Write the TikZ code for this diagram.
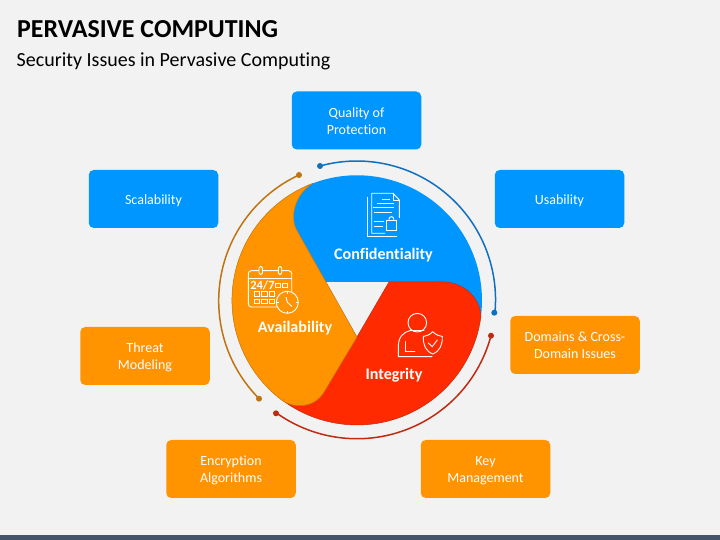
\documentclass[tikz,border=0pt]{standalone}
\usepackage{xcolor}
\usepackage{fontspec}
\setmainfont[Ligatures = NoCommon]{Carlito}
\definecolor{pageback}{HTML}{F2F2F2}
\definecolor{footbar}{HTML}{44546A}
\definecolor{boxblue}{HTML}{0096FF}
\definecolor{boxorange}{HTML}{FF9300}
\definecolor{segred}{HTML}{FF2A00}
\definecolor{ringblue}{HTML}{0F6FC0}
\definecolor{ringorange}{HTML}{BF7410}
\definecolor{ringred}{HTML}{BF2A10}
\tikzset{
  infobox/.style = {rounded corners = 5pt, minimum width = 129.5pt, minimum height = 58pt, inner sep = 0pt},
  bluebox/.style = {infobox, fill = boxblue},
  orangebox/.style = {infobox, fill = boxorange},
  boxtext/.style = {inner sep = 0pt, yshift = -2pt, align = center, text = white, font = \fontsize{14}{17}\selectfont},
  seglabel/.style = {text = white, font = \fontsize{16.1}{18}\bfseries\selectfont},
  icon/.style = {draw = white, line width = 0.9pt},
  ring/.style = {line width = 1.5pt}
}
\begin{document}
\begin{tikzpicture}[x = 1pt, y = 1pt]
    \useasboundingbox (0, 0) rectangle (720, 540);
    \fill[pageback] (0, 0) rectangle (720, 540);
    \fill[footbar] (0, 0) rectangle (720, 5);
    \node[right, inner sep = 0pt, font = \fontsize{25.9}{30}\bfseries\selectfont] (title) at (17, 511) {PERVASIVE COMPUTING};
    \node[right, inner sep = 0pt, font = \fontsize{20}{24}\selectfont] (subtitle) at (16.5, 478.5) {Security Issues in Pervasive Computing};

    % segments
    \fill[boxblue] (313, 356.7) arc[start angle = 110.6, end angle = -8.2, radius = 125pt]
      -- (400, 240) -- (400, 258) -- (325, 258) -- (296.7, 310)
      .. controls (289, 324) and (296, 347) .. (313, 356.7);
    \filldraw[fill = segred, draw = ringred, line width = 0.5pt] (389, 258) -- (443, 258)
      .. controls (462, 258) and (480, 244) .. (480.9, 223.3)
      arc[start angle = -7.7, end angle = -127, radius = 125pt] -- (357, 203) -- cycle;
    \filldraw[fill = boxorange, draw = ringorange, line width = 0.5pt] (313, 356.7)
      arc[start angle = 110.6, end angle = 233, radius = 125pt]
      .. controls (292, 132) and (313, 131) .. (323.3, 146.7)
      -- (357, 203) -- (296.7, 310)
      .. controls (289, 324) and (296, 347) .. (313, 356.7);

    % rings
    \draw[ring, ringblue] (320, 374) arc[start angle = 105.4, end angle = -5.3, radius = 138.7pt];
    \fill[ringblue] (320, 374) circle (3pt) (494.3, 227.3) circle (3pt);
    \draw[ring, ringorange] (299, 365) arc[start angle = 114.9, end angle = 225.2, radius = 138.7pt];
    \fill[ringorange] (299, 365) circle (3pt) (259, 141.3) circle (3pt);
    \draw[ring, ringred] (491, 204.3) arc[start angle = -14.9, end angle = -125.6, radius = 138.7pt];
    \fill[ringred] (491, 204.3) circle (3pt) (276, 126.7) circle (3pt);

    % document icon
    \draw[icon] (367.3, 343.3) -- (367.3, 303.3) -- (396.7, 303.3);
    \draw[icon] (385, 306.7) -- (371.7, 306.7) -- (371.7, 346.7) -- (393, 346.7) -- (399.3, 340) -- (399.3, 322);
    \draw[icon] (393, 346.7) -- (393, 340) -- (399.3, 340);
    \draw[icon] (381.7, 340.7) -- (390, 340.7);
    \draw[icon] (376.7, 336.7) -- (394.3, 336.7);
    \draw[icon] (373.3, 332.3) -- (394.3, 332.3);
    \draw[icon] (374, 328) -- (391.7, 328);
    \draw[icon] (374, 319) -- (384, 319);
    \draw[icon] (374, 314) -- (383.3, 314);
    \draw[icon] (386.7, 310) rectangle (396, 319.3);
    \draw[icon] (389, 319.3) -- (389, 321) arc[start angle = 180, end angle = 0, radius = 2.35pt] -- (393.7, 319.3);

    % calendar icon
    \draw[icon, rounded corners = 3pt] (248.3, 233) rectangle (291.7, 269.3);
    \draw[icon] (248.3, 262) -- (291.7, 262);
    \foreach \ringx in {260.7, 280} {
      \filldraw[icon, fill = boxorange, rounded corners = 1.5pt] (\ringx - 1.7, 265.5) rectangle (\ringx + 1.7, 273.5);
    }
    \node[text = white, inner sep = 0pt, font = \fontsize{12.5}{13}\bfseries\selectfont] (weektext) at (262.5, 254.5) {24/7};
    \foreach \boxx in {278, 285} {
      \draw[icon, line width = 0.7pt] (\boxx - 2.5, 252.5) rectangle (\boxx + 2.5, 257);
    }
    \foreach \boxx in {256.7, 264.3, 271.7} {
      \foreach \boxy in {246, 238.7} {
        \draw[icon, line width = 0.7pt] (\boxx - 2.7, \boxy - 2.3) rectangle (\boxx + 2.7, \boxy + 2.3);
      }
    }
    \filldraw[icon, fill = boxorange] (287.3, 237.7) circle (11pt);
    \draw[icon] (286, 243) -- (287.3, 237.7) -- (292, 233.5);
    \foreach \tickangle in {0, 90, 180, 270} {
      \draw[icon, line width = 0.7pt] (287.3, 237.7) ++(\tickangle:8.5pt) -- ++(\tickangle:2.5pt);
    }

    % person icon
    \draw[icon] (417.3, 217.3) circle (9.3pt);
    \draw[icon, line cap = round] (432, 183.3) -- (398.3, 183.3) -- (398.3, 193)
      .. controls (398.3, 203) and (403, 208) .. (411, 209.5) -- (424, 209.5);
    \draw[icon, line cap = round] (405, 198.3) -- (405, 188.3) -- (415, 188.3);
    \filldraw[icon, fill = segred, line join = round] (432.7, 208.3) .. controls (436, 205) and (439, 204) .. (442.3, 203.5)
      .. controls (442.5, 195) and (440, 189) .. (432.7, 186)
      .. controls (425.5, 189) and (423, 195) .. (423.3, 203.5)
      .. controls (426.5, 204) and (429.5, 205) .. (432.7, 208.3) -- cycle;
    \draw[icon, line cap = round] (428.3, 197) -- (432.2, 193.3) -- (437.3, 200);

    \node[seglabel] (confidentiality) at (383.5, 284.5) {Confidentiality};
    \node[seglabel] (availability) at (295, 211.5) {Availability};
    \node[seglabel] (integrity) at (394, 164.5) {Integrity};

    \node[bluebox, label = {[boxtext, yshift = 1pt]center:{Quality of\\Protection}}] (quality) at (356.5, 419.5) {};
    \node[bluebox, label = {[boxtext]center:{Usability}}] (usability) at (559.5, 341) {};
    \node[bluebox, label = {[boxtext]center:{Scalability}}] (scalability) at (153.5, 341) {};
    \node[orangebox, label = {[boxtext, yshift = 1.5pt]center:{Domains \& Cross-\\Domain Issues}}] (domains) at (575, 195) {};
    \node[orangebox, label = {[boxtext, yshift = 1pt]center:{Threat\\Modeling}}] (threat) at (145, 184) {};
    \node[orangebox, label = {[boxtext, yshift = 1pt]center:{Encryption\\Algorithms}}] (encryption) at (231, 71) {};
    \node[orangebox, label = {[boxtext, yshift = 0.5pt]center:{Key\\Management}}] (key) at (485.5, 71) {};
  \end{tikzpicture}
\end{document}
